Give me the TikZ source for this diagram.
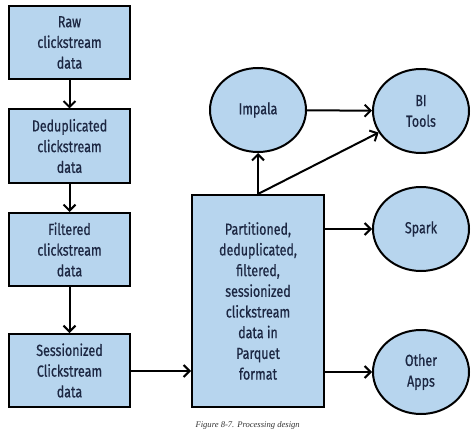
\documentclass[tikz,border=0pt]{standalone}
\usepackage{fontspec}
\setmainfont[FakeStretch=0.78,FakeBold=0.6]{Fira Sans}
\newfontfamily\capfont{Liberation Serif}
\usetikzlibrary{arrows.meta,shapes.geometric}
\definecolor{boxfill}{HTML}{B7D5EE}
\definecolor{txt}{HTML}{1C2742}
\tikzset{
  every node/.style={font=\fontsize{16}{20.7}\selectfont, text=txt, align=center},
  databox/.style={draw=black, line width=2pt, fill=boxfill, minimum width=121pt, minimum height=73pt, inner sep=0pt},
  bigbox/.style={draw=black, line width=2pt, fill=boxfill, minimum width=132pt, minimum height=212pt, inner sep=0pt},
  tool/.style={ellipse, draw=black, line width=2pt, fill=boxfill, minimum width=96pt, minimum height=84pt, inner sep=0pt},
  conn/.style={draw=black, line width=2pt, -{Straight Barb[length=6pt,width=12pt,line width=2pt]}}
}
\begin{document}
\begin{tikzpicture}[x=1pt,y=-1pt]
\useasboundingbox (0,0) rectangle (474,433);
\node[databox] (raw) at (69.5,42.5) {Raw\\clickstream\\data};
\node[databox] (dedup) at (69.5,146) {Deduplicated\\clickstream\\data};
\node[databox] (filt) at (69.5,249.5) {Filtered\\clickstream\\data};
\node[databox] (sess) at (69.5,370.5) {Sessionized\\Clickstream\\data};
\node[bigbox] (parq) at (258,301) {Partitioned,\\deduplicated,\\filtered,\\sessionized\\clickstream\\data in\\Parquet\\format};
\node[tool] (impala) at (258,110) {Impala};
\node[tool] (bi) at (421,111) {BI\\Tools};
\node[tool] (spark) at (421,229) {Spark};
\node[tool] (other) at (421,372) {Other\\Apps};
\coordinate (ptop) at (parq.north);
\draw[conn] (raw) -- (dedup);
\draw[conn] (dedup) -- (filt);
\draw[conn] (filt) -- (sess);
\draw[conn] (sess.east |- 0,371) -- (parq.west |- 0,371);
\draw[conn] (ptop) -- (impala);
\draw[conn] (ptop) -- (bi);
\draw[conn] (impala) -- (bi);
\draw[conn] (parq.east |- spark) -- (spark);
\draw[conn] (parq.east |- other) -- (other);
\node[font=\capfont\itshape\fontsize{8.6}{10}\selectfont, text=black!80, anchor=west] (cap) at (192,425.5) {Figure 8-7. Processing design};
\end{tikzpicture}
\end{document}
